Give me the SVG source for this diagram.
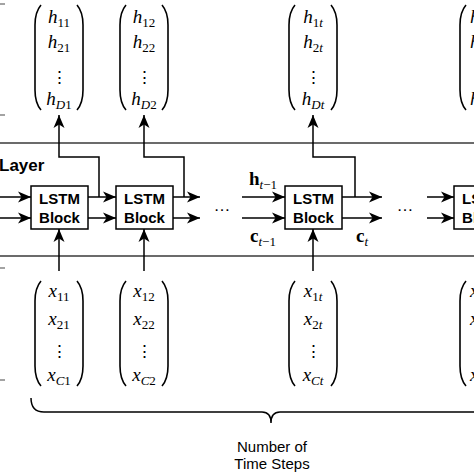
<svg xmlns="http://www.w3.org/2000/svg" width="474" height="474" viewBox="0 0 474 474">
<defs>
<marker id="ah" markerUnits="userSpaceOnUse" markerWidth="14" markerHeight="12" refX="13" refY="6" orient="auto">
<path d="M0,0.5 L13,6 L0,11.5 L3.5,6 z" fill="#000"/>
</marker>
<path id="parL" d="M-18,0 Q-24,7 -24,20 L-24,85 Q-24,98 -18,105"/>
<path id="parR" d="M18,0 Q24,7 24,20 L24,85 Q24,98 18,105"/>
<style>
.ln{fill:none;stroke:#000;stroke-width:1.5}
.sep{fill:none;stroke:#3a3a3a;stroke-width:1.3}
.tick{fill:none;stroke:#666;stroke-width:1.2}
.blk{fill:#fff;stroke:#000;stroke-width:1.5}
.bt{font-family:"Liberation Sans",Arial,sans-serif;font-weight:bold;font-size:15px;text-anchor:middle;fill:#000}
.m{font-family:"Liberation Serif","Times New Roman",serif;font-size:19px;font-style:italic;text-anchor:middle;fill:#000}
.b{font-family:"Liberation Serif","Times New Roman",serif;font-size:19px;font-weight:bold;fill:#000}
.s{font-size:13px;font-style:normal;font-weight:normal}
.si{font-size:13px;font-style:italic;font-weight:normal}
.par{fill:none;stroke:#000;stroke-width:1.6}
.vd{font-family:"DejaVu Serif",serif;font-size:17px;text-anchor:middle;fill:#000}
.hd{font-family:"Liberation Sans",Arial,sans-serif;font-size:17px;text-anchor:middle;fill:#000}
.lbl{font-family:"Liberation Sans",Arial,sans-serif;font-size:15px;text-anchor:middle;fill:#000}
.ttl{font-family:"Liberation Sans",Arial,sans-serif;font-size:17px;font-weight:bold;fill:#000}
</style>
</defs>

<g id="frame">
<line class="sep" x1="0" y1="143" x2="474" y2="143"/>
<line class="sep" x1="0" y1="256" x2="474" y2="256"/>
<line class="tick" x1="0" y1="4" x2="5" y2="4"/>
<line class="tick" x1="0" y1="115" x2="5" y2="115"/>
<line class="tick" x1="0" y1="268" x2="5" y2="268"/>
<line class="tick" x1="0" y1="380" x2="5" y2="380"/>
<text class="ttl" x="-1" y="171">Layer</text>
</g>

<g id="out1" transform="translate(59,5)">
<use href="#parL" class="par"/><use href="#parR" class="par"/>
<text class="m" x="0" y="18">h<tspan class="s" dy="4">11</tspan></text>
<text class="m" x="0" y="43">h<tspan class="s" dy="4">21</tspan></text>
<text class="vd" x="0" y="78">⋮</text>
<text class="m" x="0" y="100">h<tspan class="si" dy="4">D</tspan><tspan class="s">1</tspan></text>
</g>
<g id="out2" transform="translate(144,5)">
<use href="#parL" class="par"/><use href="#parR" class="par"/>
<text class="m" x="0" y="18">h<tspan class="s" dy="4">12</tspan></text>
<text class="m" x="0" y="43">h<tspan class="s" dy="4">22</tspan></text>
<text class="vd" x="0" y="78">⋮</text>
<text class="m" x="0" y="100">h<tspan class="si" dy="4">D</tspan><tspan class="s">2</tspan></text>
</g>
<g id="outt" transform="translate(313,5)">
<use href="#parL" class="par"/><use href="#parR" class="par"/>
<text class="m" x="0" y="18">h<tspan class="s" dy="4">1</tspan><tspan class="si">t</tspan></text>
<text class="m" x="0" y="43">h<tspan class="s" dy="4">2</tspan><tspan class="si">t</tspan></text>
<text class="vd" x="0" y="78">⋮</text>
<text class="m" x="0" y="100">h<tspan class="si" dy="4">Dt</tspan></text>
</g>
<g id="out4" transform="translate(484,5)">
<use href="#parL" class="par"/>
<text class="m" x="-14" y="18" style="text-anchor:start">h</text>
<text class="m" x="-14" y="43" style="text-anchor:start">h</text>
<text class="m" x="-14" y="100" style="text-anchor:start">h</text>
</g>

<g id="in1" transform="translate(59,281)">
<use href="#parL" class="par"/><use href="#parR" class="par"/>
<text class="m" x="0" y="16">x<tspan class="s" dy="4">11</tspan></text>
<text class="m" x="0" y="44">x<tspan class="s" dy="4">21</tspan></text>
<text class="vd" x="0" y="76">⋮</text>
<text class="m" x="0" y="100">x<tspan class="si" dy="4">C</tspan><tspan class="s">1</tspan></text>
</g>
<g id="in2" transform="translate(144,281)">
<use href="#parL" class="par"/><use href="#parR" class="par"/>
<text class="m" x="0" y="16">x<tspan class="s" dy="4">12</tspan></text>
<text class="m" x="0" y="44">x<tspan class="s" dy="4">22</tspan></text>
<text class="vd" x="0" y="76">⋮</text>
<text class="m" x="0" y="100">x<tspan class="si" dy="4">C</tspan><tspan class="s">2</tspan></text>
</g>
<g id="int" transform="translate(313,281)">
<use href="#parL" class="par"/><use href="#parR" class="par"/>
<text class="m" x="0" y="16">x<tspan class="s" dy="4">1</tspan><tspan class="si">t</tspan></text>
<text class="m" x="0" y="44">x<tspan class="s" dy="4">2</tspan><tspan class="si">t</tspan></text>
<text class="vd" x="0" y="76">⋮</text>
<text class="m" x="0" y="100">x<tspan class="si" dy="4">Ct</tspan></text>
</g>
<g id="in4" transform="translate(484,281)">
<use href="#parL" class="par"/>
<text class="m" x="-14" y="16" style="text-anchor:start">x</text>
<text class="m" x="-14" y="44" style="text-anchor:start">x</text>
<text class="m" x="-14" y="100" style="text-anchor:start">x</text>
</g>

<g id="connectors">
<line class="ln" x1="0" y1="197" x2="31" y2="197" marker-end="url(#ah)"/>
<line class="ln" x1="0" y1="218" x2="31" y2="218" marker-end="url(#ah)"/>
<line class="ln" x1="88" y1="197" x2="116" y2="197" marker-end="url(#ah)"/>
<line class="ln" x1="88" y1="218" x2="116" y2="218" marker-end="url(#ah)"/>
<line class="ln" x1="173" y1="197" x2="200" y2="197" marker-end="url(#ah)"/>
<line class="ln" x1="173" y1="218" x2="200" y2="218" marker-end="url(#ah)"/>
<line class="ln" x1="242" y1="197" x2="285" y2="197" marker-end="url(#ah)"/>
<line class="ln" x1="242" y1="218" x2="285" y2="218" marker-end="url(#ah)"/>
<line class="ln" x1="342" y1="197" x2="382" y2="197" marker-end="url(#ah)"/>
<line class="ln" x1="342" y1="218" x2="382" y2="218" marker-end="url(#ah)"/>
<line class="ln" x1="427" y1="197" x2="454" y2="197" marker-end="url(#ah)"/>
<line class="ln" x1="427" y1="218" x2="454" y2="218" marker-end="url(#ah)"/>
<polyline class="ln" points="99,197 99,157 59,157 59,115" marker-end="url(#ah)"/>
<polyline class="ln" points="184,197 184,157 144,157 144,115" marker-end="url(#ah)"/>
<polyline class="ln" points="355,197 355,157 313,157 313,115" marker-end="url(#ah)"/>
<line class="ln" x1="59" y1="271" x2="59" y2="229" marker-end="url(#ah)"/>
<line class="ln" x1="144" y1="271" x2="144" y2="229" marker-end="url(#ah)"/>
<line class="ln" x1="313" y1="271" x2="313" y2="229" marker-end="url(#ah)"/>
<text class="hd" x="222" y="211">…</text>
<text class="hd" x="405" y="211">…</text>
<text class="b" x="249" y="185">h<tspan class="si" dy="4">t</tspan><tspan class="s">−1</tspan></text>
<text class="b" x="250" y="242">c<tspan class="si" dy="4">t</tspan><tspan class="s">−1</tspan></text>
<text class="b" x="356" y="242">c<tspan class="si" dy="4">t</tspan></text>
</g>

<g id="block1">
<rect class="blk" x="31" y="186" width="57" height="43"/>
<text class="bt" x="59.5" y="204">LSTM</text>
<text class="bt" x="59.5" y="223">Block</text>
</g>
<g id="block2">
<rect class="blk" x="116" y="186" width="57" height="43"/>
<text class="bt" x="144.5" y="204">LSTM</text>
<text class="bt" x="144.5" y="223">Block</text>
</g>
<g id="blockt">
<rect class="blk" x="285" y="186" width="57" height="43"/>
<text class="bt" x="313.5" y="204">LSTM</text>
<text class="bt" x="313.5" y="223">Block</text>
</g>
<g id="block4">
<rect class="blk" x="454" y="186" width="57" height="43"/>
<text class="bt" x="482.5" y="204">LSTM</text>
<text class="bt" x="482.5" y="223">Block</text>
</g>

<g id="brace">
<path class="ln" d="M31,398 Q31,412 44,412 L262,412 Q271,412 271,423 Q271,412 280,412 L480,412"/>
<text class="lbl" x="272" y="452">Number of</text>
<text class="lbl" x="272" y="469">Time Steps</text>
</g>
</svg>
